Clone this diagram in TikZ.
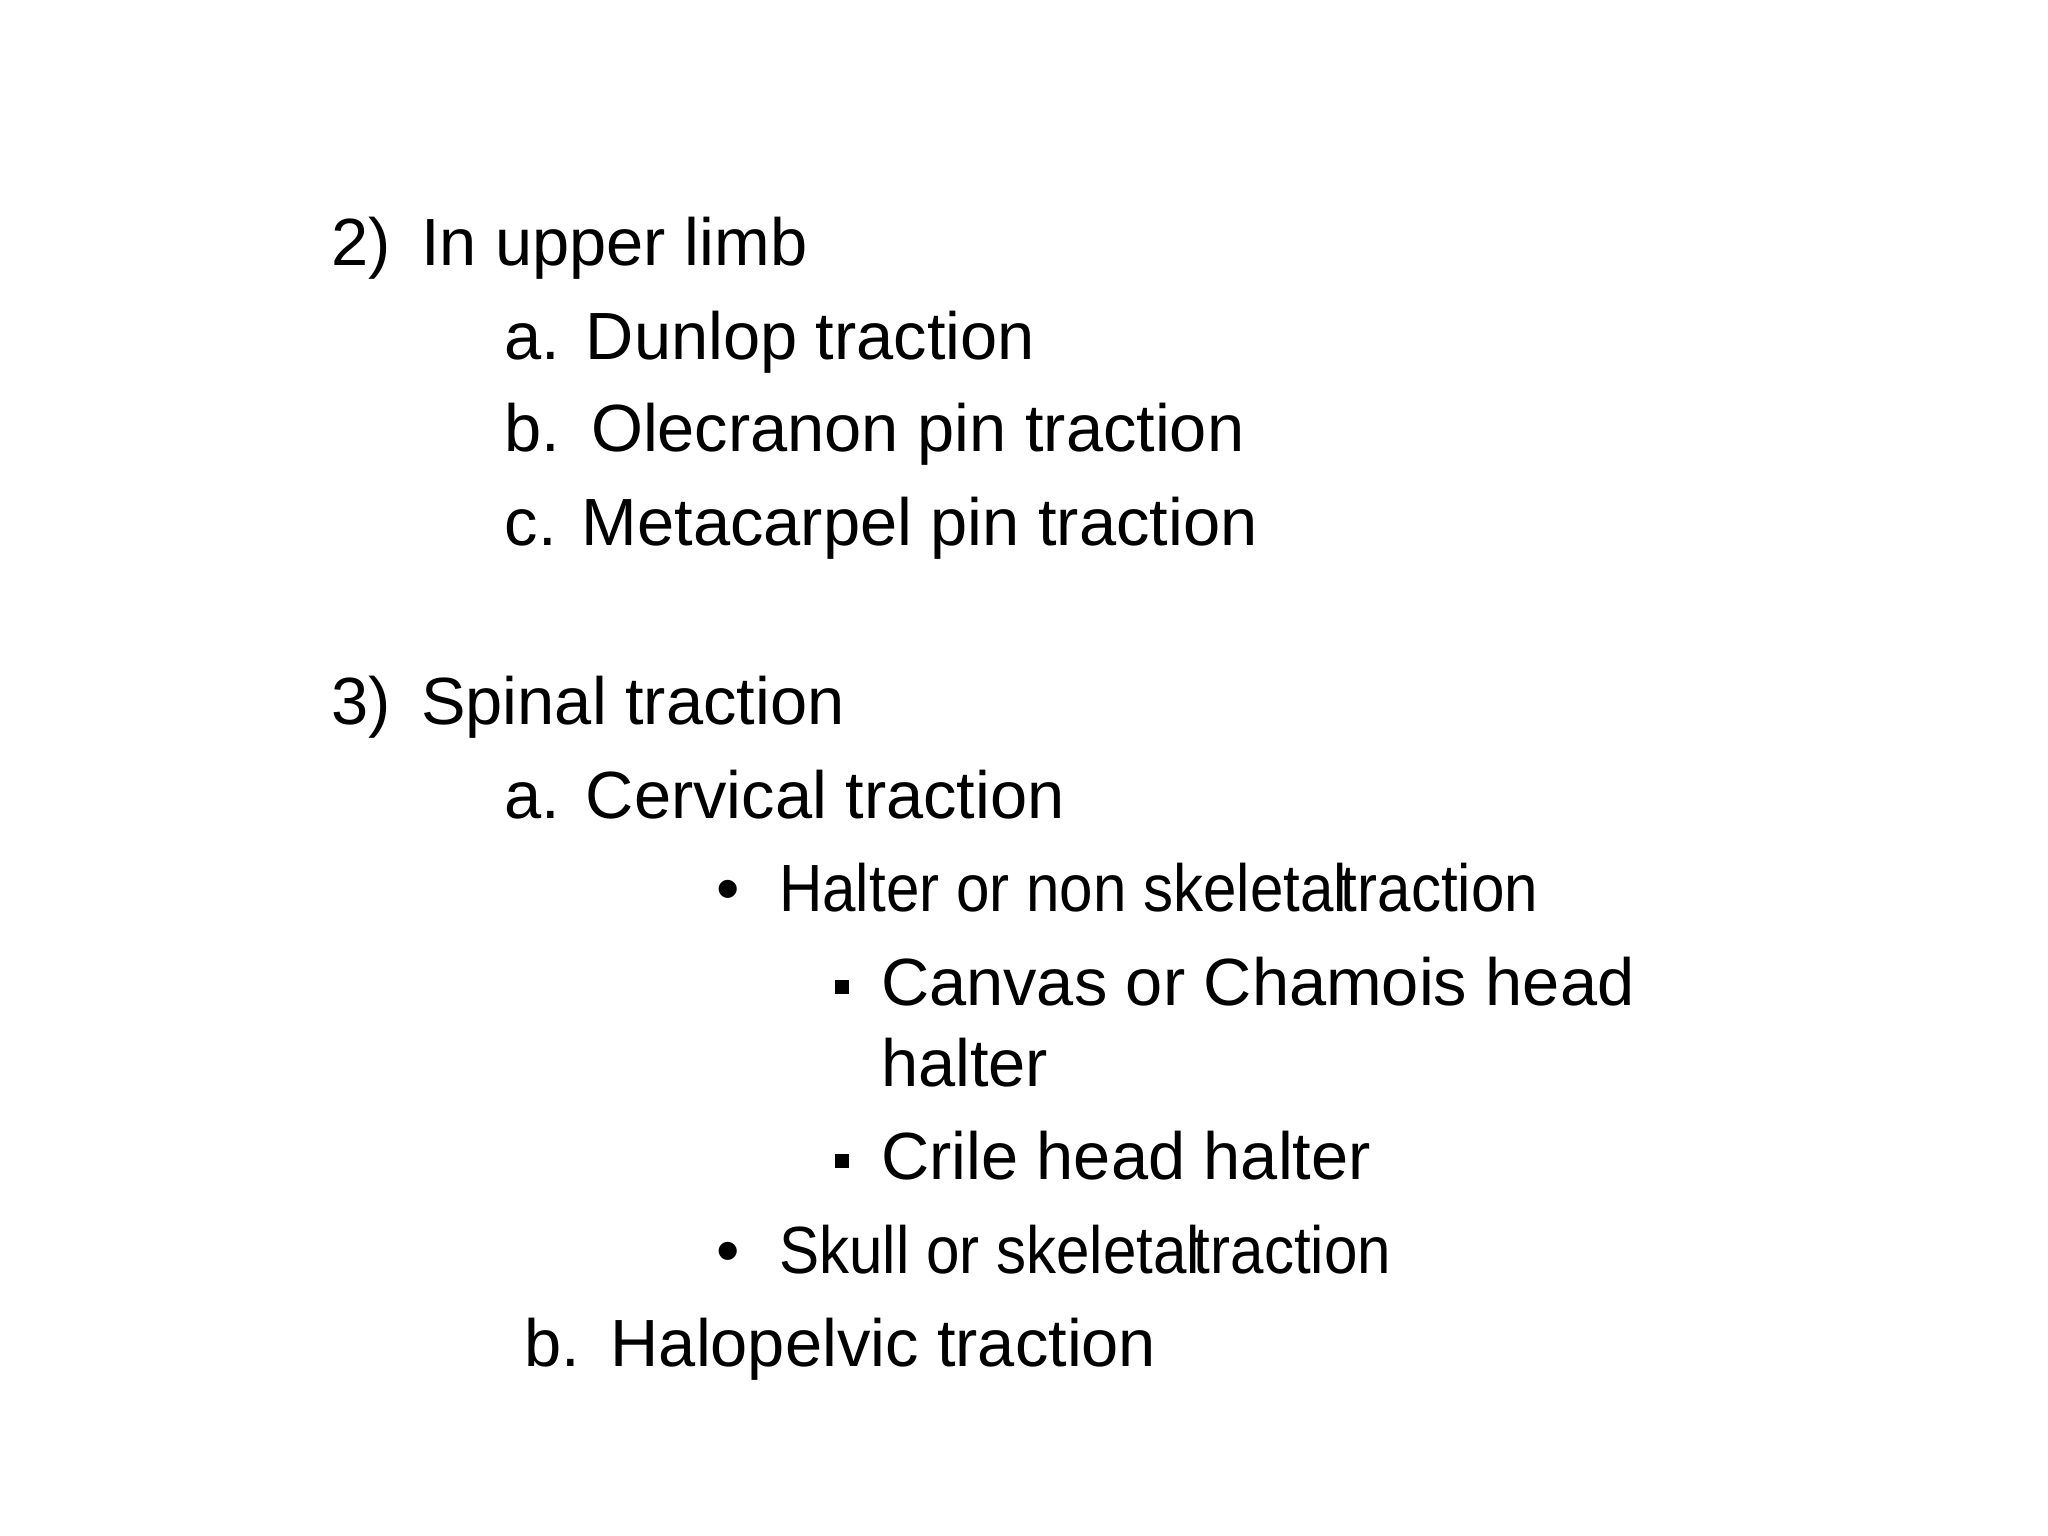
\documentclass[tikz,border=0pt]{standalone}
\usepackage{fontspec}
\setmainfont{Liberation Sans}
\begin{document}
\begin{tikzpicture}[x=0.01306cm,y=-0.01306cm,
  t/.style={anchor=base west,inner sep=0pt,font=\fontsize{19}{23}\selectfont},
  sq/.style={fill=black,minimum size=0.14cm,inner sep=0pt}]
\useasboundingbox (0,0) rectangle (1568,1176);
\node[t] (n1) at (253,203) {2)};
\node[t] (t1) at (322,203) {In upper limb};
\node[t] (n1a) at (386,275) {a.};
\node[t] (t1a) at (448,275) {Dunlop traction};
\node[t] (n1b) at (386,346) {b.};
\node[t] (t1b) at (452,346) {Olecranon pin traction};
\node[t] (n1c) at (386,418) {c.};
\node[t] (t1c) at (445,418) {Metacarpel pin traction};
\node[t] (n2) at (253,555) {3)};
\node[t] (t2) at (322,555) {Spinal traction};
\node[t] (n2a) at (386,627) {a.};
\node[t] (t2a) at (448,627) {Cervical traction};
\node[t] (b1) at (548,698) {•};
\node[t] (tb1) at (596,698) {\scalebox{0.9}[1]{Halter or non skeletal\kern-0.1em traction}};
\node[sq] (s1) at (645,756) {};
\node[t] (ts1) at (674,770) {Canvas or Chamois head};
\node[t] (ts1b) at (674,832) {halter};
\node[sq] (s2) at (645,889) {};
\node[t] (ts2) at (674,903) {Crile head halter};
\node[t] (b2) at (548,975) {•};
\node[t] (tb2) at (596,975) {\scalebox{0.9}[1]{Skull or skeletal\kern-0.1em traction}};
\node[t] (n2b) at (401,1046) {b.};
\node[t] (t2b) at (467,1046) {Halopelvic traction};
\end{tikzpicture}
\end{document}
